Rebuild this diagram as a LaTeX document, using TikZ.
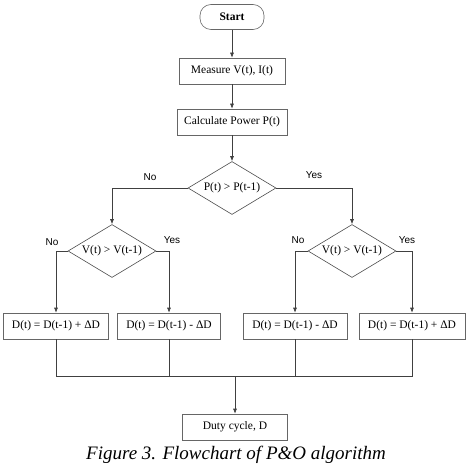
\documentclass[tikz,border=0pt]{standalone}
\usepackage{fontspec}
\setmainfont{Liberation Serif}
\newfontfamily\labfont{Liberation Sans}
\usetikzlibrary{shapes.geometric,arrows.meta}
\begin{document}
\begin{tikzpicture}[x=1pt,y=-1pt,
  line/.style={draw=black!75, line width=0.6pt},
  arr/.style={line, -{Latex[length=5pt,width=4pt]}},
  boxnode/.style={draw=black!60, line width=0.6pt, minimum height=26pt, inner sep=0pt, font=\fontsize{11.5}{13}\selectfont},
  decnode/.style={draw=black!70, line width=0.6pt, shape=diamond, aspect=1.7, inner sep=0pt, minimum width=88pt, minimum height=53pt, font=\fontsize{11.5}{13}\selectfont},
  lab/.style={font=\labfont\fontsize{10}{12}\selectfont, inner sep=0pt}
]
\useasboundingbox (0,0) rectangle (474,465);
\node[boxnode, rounded corners=11pt, minimum width=64pt, minimum height=25pt, font=\bfseries\fontsize{11.5}{13}\selectfont] (start) at (232,17) {Start};
\node[boxnode, minimum width=106pt] (meas) at (232,71) {Measure V(t), I(t)};
\node[boxnode, minimum width=110pt] (calc) at (232,122) {Calculate Power P(t)};
\node[decnode] (d1) at (232,188) {P(t) > P(t-1)};
\node[decnode] (d2) at (112,251) {V(t) > V(t-1)};
\node[decnode] (d3) at (352,251) {V(t) > V(t-1)};
\node[boxnode, minimum width=105pt] (b1) at (56,326) {D(t) = D(t-1) + ΔD};
\node[boxnode, minimum width=103pt] (b2) at (169,326) {D(t) = D(t-1) - ΔD};
\node[boxnode, minimum width=104pt] (b3) at (295,326) {D(t) = D(t-1) - ΔD};
\node[boxnode, minimum width=106pt] (b4) at (412,326) {D(t) = D(t-1) + ΔD};
\node[boxnode, minimum width=105pt] (duty) at (235,427) {Duty cycle, D};
\node[font=\itshape\fontsize{19}{22}\selectfont, inner sep=0pt] (cap) at (236,455) {Figure 3. Flowchart of P\&O algorithm};

\node[lab] (no1) at (150,177) {No};
\node[lab] (yes1) at (314,175) {Yes};
\node[lab] (no2) at (52,242) {No};
\node[lab] (yes2) at (172,240) {Yes};
\node[lab] (no3) at (298,240) {No};
\node[lab] (yes3) at (407,240) {Yes};

\coordinate (m) at (235,376);

\draw[arr] (start) -- (meas);
\draw[arr] (meas) -- (calc);
\draw[arr] (calc) -- (d1);
\draw[arr] (d1.west) -| (d2.north);
\draw[arr] (d1.east) -| (d3.north);
\draw[arr] (d2.west) -| (b1.north);
\draw[arr] (d2.east) -| (b2.north);
\draw[arr] (d3.west) -| (b3.north);
\draw[arr] (d3.east) -| (b4.north);
\draw[line] (b1.south) |- (m);
\draw[line] (b4.south) |- (m);
\draw[line] (b2.south) -- (b2.south |- m);
\draw[line] (b3.south) -- (b3.south |- m);
\draw[arr] (m) -- (duty);
\end{tikzpicture}
\end{document}
